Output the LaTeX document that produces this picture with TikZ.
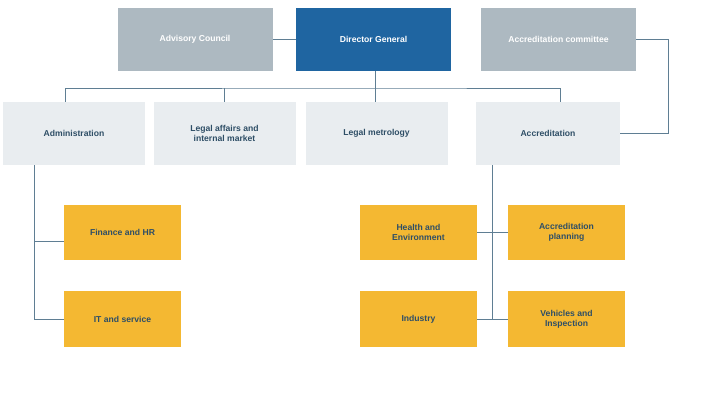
\documentclass[tikz,border=0pt]{standalone}
\usepackage{fontspec}
\setmainfont{Liberation Sans}
\begin{document}
\begin{tikzpicture}[x=1pt,y=-1pt,
  base/.style={draw=none,minimum width=#1pt,align=center,font=\bfseries\fontsize{8.6}{10}\selectfont,inner sep=0pt},
  top/.style={base=155,minimum height=63pt,fill=topgray,text=white},
  dg/.style={base=155,minimum height=63pt,fill=dgblue,text=white},
  mid/.style={base=142,minimum height=63pt,fill=midgray,text=textdark},
  leaf/.style={base=117,minimum height=55pt,fill=leafor,text=textdark},
  conn/.style={draw=linec,line width=0.8pt}]
\definecolor{topgray}{HTML}{ADB9C1}
\definecolor{dgblue}{HTML}{1F65A1}
\definecolor{midgray}{HTML}{E9EDF0}
\definecolor{leafor}{HTML}{F4B832}
\definecolor{textdark}{HTML}{2E4E66}
\definecolor{linec}{HTML}{5F7E93}
\useasboundingbox (0,0) rectangle (720,405);
\node[top] (adv) at (195,39.5) {Advisory Council};
\node[dg] (dgn) at (373.5,39.5) {Director General};
\node[top] (acc) at (558.5,39.5) {Accreditation committee};
\node[mid] (adm) at (74,133.5) {Administration};
\node[mid] (leg) at (224.5,133.5) {Legal affairs and\\internal market};
\node[mid] (met) at (376.5,133.5) {Legal metrology};
\node[mid,minimum width=144pt] (acr) at (548,133.5) {Accreditation};
\node[leaf] (fin) at (122.5,232) {Finance and HR};
\node[leaf,minimum height=56pt] (its) at (122.5,319) {IT and service};
\node[leaf] (hea) at (418.5,232) {Health and\\Environment};
\node[leaf] (pla) at (566.5,232) {Accreditation\\planning};
\node[leaf,minimum height=56pt] (ind) at (418.5,319) {Industry};
\node[leaf,minimum height=56pt] (veh) at (566.5,319) {Vehicles and\\Inspection};
\coordinate (hub) at (375,88);
\draw[conn] (adv.east) -- (dgn.west);
\draw[conn] (dgn.south -| hub) -- (hub);
\draw[conn] (adm.north -| 65,0) |- (hub) -| (acr.north -| 560,0);
\draw[conn] (leg.north) -- (leg.north |- hub);
\draw[conn] (met.north -| hub) -- (hub);
\draw[conn] (acc.east) -- ++(32,0) |- (acr.east);
\draw[conn] (adm.south -| 34,0) |- (its.west);
\draw[conn] (34,241) -- (fin.west |- 34,241);
\draw[conn] (acr.south -| 492,0) -- (492,319);
\draw[conn] (hea.east) -- (pla.west);
\draw[conn] (ind.east) -- (veh.west);
\end{tikzpicture}
\end{document}
